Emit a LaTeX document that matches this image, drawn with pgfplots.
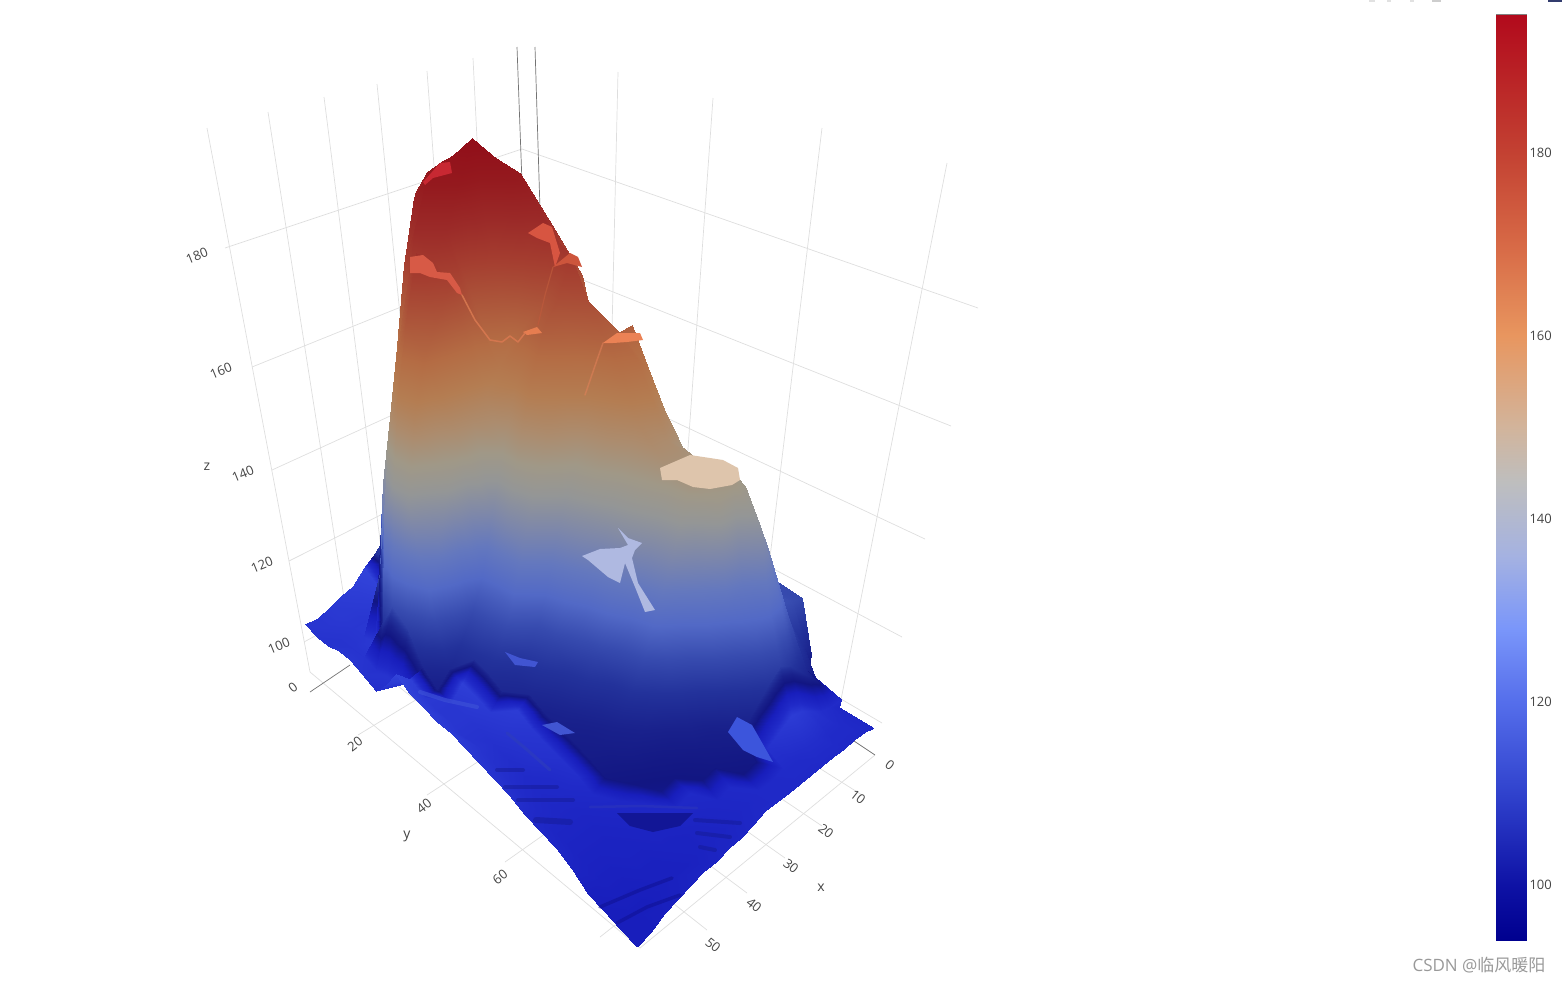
\documentclass[border=0pt]{standalone}
\usepackage{fontspec}
\setmainfont{Open Sans}
\newfontfamily\cjk{Noto Sans CJK SC}
\usepackage{pgfplots}
\usepackage{pgfplotstable}
\pgfplotsset{compat=1.18}
\usepgfplotslibrary{patchplots}
\definecolor{tickc}{RGB}{68,68,68}
\definecolor{gridc}{RGB}{222,222,222}
\pgfplotsset{
 colormap={wall}{
  rgb255(60pt)=(55,75,225); rgb255(68pt)=(50,68,218); rgb255(80pt)=(32,42,200); rgb255(90pt)=(24,30,188); rgb255(96pt)=(20,25,155);
  rgb255(100pt)=(18,22,130); rgb255(106pt)=(25,33,140); rgb255(112pt)=(35,50,155); rgb255(118pt)=(55,75,175);
  rgb255(124pt)=(82,105,198); rgb255(130pt)=(100,120,190); rgb255(136pt)=(125,135,170); rgb255(142pt)=(148,150,150);
  rgb255(147pt)=(160,152,135); rgb255(152pt)=(172,140,110); rgb255(158pt)=(180,125,82); rgb255(164pt)=(180,108,68);
  rgb255(170pt)=(172,85,58); rgb255(176pt)=(165,62,48); rgb255(182pt)=(155,42,40); rgb255(188pt)=(148,25,30);
  rgb255(195pt)=(145,12,24)},
 colormap={coolwarm}{
  rgb255(94pt)=(0,0,143); rgb255(100pt)=(14,18,165); rgb255(110pt)=(48,66,205); rgb255(120pt)=(85,110,235);
  rgb255(128pt)=(122,150,250); rgb255(136pt)=(165,178,225); rgb255(144pt)=(190,190,190); rgb255(150pt)=(210,180,155);
  rgb255(160pt)=(232,150,95); rgb255(170pt)=(215,105,70); rgb255(180pt)=(195,65,50); rgb255(195pt)=(178,10,28)}
}
% surface heights z, one text line per y position (21 x positions each)
\pgfplotstableread[row sep=\\]{
z\\
100\\100\\100\\100\\100\\100\\100\\101\\101\\102\\103\\105\\107\\110\\112\\110\\107\\106\\105\\104\\104\\
101\\101\\101\\101\\102\\103\\105\\110\\120\\130\\138\\145\\135\\120\\112\\108\\106\\105\\105\\104\\103\\
102\\102\\102\\103\\105\\110\\120\\135\\150\\158\\165\\170\\150\\125\\112\\107\\105\\104\\104\\103\\103\\
103\\103\\104\\106\\112\\125\\140\\155\\165\\172\\180\\184\\170\\155\\135\\115\\108\\105\\104\\103\\104\\
104\\105\\107\\112\\125\\140\\155\\170\\178\\184\\189\\188\\185\\175\\162\\150\\138\\120\\105\\103\\104\\
105\\107\\110\\120\\135\\150\\165\\178\\185\\188\\191\\190\\189\\182\\172\\162\\150\\135\\112\\102\\103\\
106\\108\\115\\128\\145\\160\\172\\185\\188\\191\\194\\188\\182\\178\\180\\170\\158\\142\\118\\103\\101\\
108\\112\\125\\145\\160\\170\\175\\182\\188\\190\\175\\167\\172\\175\\170\\165\\155\\140\\115\\103\\105\\
110\\118\\132\\150\\160\\168\\174\\180\\184\\176\\164\\160\\156\\153\\150\\143\\133\\122\\108\\107\\110\\
112\\118\\128\\138\\148\\158\\172\\175\\180\\170\\166\\158\\148\\136\\124\\117\\112\\108\\105\\105\\108\\
110\\115\\125\\135\\142\\150\\160\\170\\178\\172\\168\\160\\149\\136\\123\\116\\111\\107\\104\\104\\107\\
110\\114\\122\\130\\138\\145\\154\\160\\172\\166\\160\\152\\143\\132\\121\\114\\110\\106\\104\\104\\106\\
111\\116\\128\\140\\150\\160\\167\\167\\167\\158\\148\\140\\130\\119\\114\\110\\108\\105\\103\\103\\106\\
111\\115\\124\\134\\143\\152\\161\\164\\162\\153\\145\\135\\125\\116\\112\\108\\106\\104\\102\\103\\105\\
111\\114\\122\\131\\140\\148\\155\\158\\155\\148\\140\\130\\120\\113\\109\\106\\104\\103\\101\\102\\104\\
112\\114\\121\\129\\138\\145\\150\\152\\152\\145\\136\\126\\116\\111\\107\\105\\103\\102\\100\\101\\103\\
113\\115\\120\\128\\136\\146\\149\\150\\149\\140\\130\\120\\112\\108\\105\\104\\102\\100\\99\\100\\102\\
117\\116\\118\\126\\136\\148\\150\\150\\148\\136\\126\\116\\110\\106\\104\\103\\101\\99\\98\\99\\100\\
118\\118\\120\\128\\138\\146\\148\\146\\131\\122\\116\\110\\106\\104\\102\\101\\99\\97\\97\\97\\99\\
117\\118\\119\\126\\134\\140\\130\\126\\120\\113\\108\\104\\102\\101\\100\\98\\97\\96\\96\\96\\98\\
106\\110\\114\\120\\125\\126\\122\\116\\110\\105\\103\\101\\100\\99\\98\\97\\96\\95\\95\\95\\96\\
102\\104\\107\\110\\113\\115\\112\\108\\104\\102\\101\\100\\99\\98\\97\\96\\95\\95\\94\\94\\93\\
100\\100\\101\\103\\105\\106\\104\\102\\101\\100\\99\\98\\97\\96\\95\\95\\94\\94\\93\\93\\92\\
98\\99\\100\\100\\101\\101\\100\\100\\99\\99\\98\\97\\96\\96\\95\\94\\94\\93\\92\\92\\91\\
98\\99\\99\\99\\99\\99\\99\\99\\99\\99\\99\\98\\97\\97\\96\\96\\95\\94\\93\\91\\90\\
}\zdata
\newcommand\Sv{(0.985*mod(\coordindex,21)/20)}
\newcommand\Tv{(0.985*floor(\coordindex/21)/24)}
\newcommand\Dz{(\thisrow{z}-92)}
\newcommand\Den{(1-0.10629*\Sv-0.20033*\Tv-0.00236*\Dz)}
\newcommand\Ii{mod(\coordindex,21)}
\newcommand\Jj{floor(\coordindex/21)}
\newcommand\Bb{ifthenelse(\Jj<5,15,ifthenelse(\Jj<10,19,ifthenelse(\Jj<13,17,ifthenelse(\Jj<19,16,ifthenelse(\Jj<20,15,ifthenelse(\Jj<21,14,ifthenelse(\Jj<22,12,ifthenelse(\Jj<23,10,0))))))))}
\newcommand\gl[1]{\addplot[forget plot,gridc,line width=0.7pt] coordinates {#1};}
\newcommand\dl[1]{\addplot[forget plot,black!55,line width=0.7pt] coordinates {#1};}
\newcommand\facet[4]{\addplot[forget plot,fill={rgb,255:red,#1;green,#2;blue,#3},draw=none] coordinates {#4} -- cycle;}
\newcommand\stroke[6]{\addplot[forget plot,color={rgb,255:red,#1;green,#2;blue,#3},line width=#4pt,opacity=#5,line join=round,line cap=round] coordinates {#6};}
\newcommand\tl[4]{\node[rotate=#1,text=tickc,font=\fontsize{13}{15}\selectfont] at (axis cs:#2,#3) {#4};}
\begin{document}
\begin{tikzpicture}
\path[use as bounding box] (0,0) rectangle (1562pt,983pt);
\begin{axis}[at={(0,0)},anchor=south west,scale only axis,width=1562pt,height=983pt,
 xmin=0,xmax=1562,ymin=0,ymax=983,y dir=reverse,axis lines=none,clip=false,
 colormap name=wall,point meta min=60,point meta max=195]
% walls and floor grid
\gl{(207,128)(310,672)}\gl{(268,112)(352,649)}\gl{(324,97)(391,627)}\gl{(377,84)(429,606)}\gl{(427,71)(465,585)}\gl{(473,58)(498,566)}
\gl{(947,163)(835,730)}\gl{(822,128)(755,681)}\gl{(713,98)(675,631)}\gl{(618,72)(606,589)}
\gl{(225,248)(522,149)(978,308)}\gl{(252,367)(525,257)(951,426)}\gl{(272,470)(528,353)(925,539)}\gl{(289,561)(530,440)(902,637)}\gl{(304,642)(532,518)(882,723)}
\gl{(358,735)(600,588)}\gl{(427,795)(675,633)}\gl{(505,862)(758,684)}\gl{(600,937)(850,740)}
\gl{(862,795)(499,566)}\gl{(822,826)(464,585)}\gl{(785,858)(428,606)}\gl{(747,893)(390,627)}\gl{(707,930)(351,649)}
\gl{(310,672)(640,948)}\gl{(640,948)(875,755)}
\dl{(517,47)(523,210)}\dl{(535,47)(540,210)}\dl{(310,692)(350,665)}\dl{(875,755)(848,737)}
% surface
\addplot[surf,shader=interp,mesh/cols=21,mesh/rows=25,point meta=explicit]
 table[x index=0,y index=0,meta index=0,x expr={(-255.95*\Sv+166.7*\Tv+533-1.352*\Dz)/\Den},
       y expr={(53.57*\Sv+56.75*\Tv+547-4.871*\Dz)/\Den},
       meta expr={ifthenelse(\thisrow{z}<=116 && (\Ii>=\Bb || (\Jj>=22 && \Ii<=7)),min(90,max(68,90-1.3*(\thisrow{z}-92))),\thisrow{z})}] {\zdata};
% floor ripples
\stroke{16}{18}{150}{3.5}{0.6}{(600,907)(640,890)(672,878)}
\stroke{16}{18}{150}{3.5}{0.6}{(617,923)(647,907)(680,895)}
\stroke{20}{25}{145}{4}{0.45}{(497,770)(523,770)}
\stroke{20}{25}{145}{4}{0.45}{(505,787)(557,787)}
\stroke{20}{25}{145}{4}{0.45}{(518,800)(573,800)}
\stroke{20}{25}{145}{6}{0.45}{(536,820)(570,822)}
\stroke{20}{25}{145}{4}{0.45}{(695,820)(740,823)}
\stroke{20}{25}{145}{4}{0.45}{(697,833)(730,837)}
\stroke{20}{25}{145}{4}{0.45}{(700,847)(715,850)}
\stroke{60}{80}{215}{4}{0.7}{(420,692)(445,700)(477,707)}
\stroke{45}{60}{190}{3}{0.7}{(507,733)(525,748)(550,770)}
\stroke{40}{50}{190}{2.5}{0.8}{(590,807)(640,806)(697,808)}
% lit facets
\facet{222}{197}{172}{(660,468)(690,455)(710,458)(723,460)(738,468)(740,480)(732,485)(710,489)(693,487)(677,480)(662,480)}
\facet{175}{185}{225}{(582,556)(600,549)(620,548)(628,545)(618,528)(628,538)(642,543)(635,550)(632,558)(638,583)(655,610)(645,612)(635,587)(625,563)(620,583)(608,577)(588,560)}
\facet{215}{90}{70}{(410,257)(423,255)(433,263)(437,272)(450,273)(460,288)(462,295)(457,293)(447,280)(430,277)(420,273)(410,273)}
\facet{200}{40}{50}{(423,182)(440,163)(450,162)(452,173)(433,178)(425,185)}
\facet{215}{85}{65}{(528,233)(543,223)(552,227)(560,253)(555,267)(550,243)(537,238)}
\facet{205}{85}{60}{(553,267)(570,253)(578,257)(582,267)(567,263)}
\facet{235}{130}{85}{(603,343)(617,333)(640,333)(643,340)(627,342)(613,343)}
\facet{230}{125}{80}{(523,332)(537,327)(542,333)(527,335)}
\facet{65}{85}{210}{(542,725)(557,722)(575,733)(560,735)}
\facet{65}{85}{210}{(505,652)(520,658)(538,662)(535,667)(515,665)}
\facet{60}{85}{220}{(728,732)(737,717)(752,725)(773,762)(757,757)(743,750)}
\facet{18}{22}{150}{(617,813)(693,813)(680,826)(653,832)(630,826)}
\stroke{215}{120}{80}{1.5}{0.9}{(462,295)(475,320)(490,340)(502,342)(510,336)(518,342)(525,333)}
\stroke{190}{90}{60}{1.2}{0.7}{(553,267)(545,295)(538,325)}
\stroke{230}{130}{90}{1.5}{0.5}{(585,395)(597,360)(603,343)}
% toolbar remnants at the top edge
\facet{225}{225}{225}{(1369,0)(1375,0)(1375,1.5)(1369,1.5)}
\facet{225}{225}{225}{(1387,0)(1391,0)(1391,1.5)(1387,1.5)}
\facet{225}{225}{225}{(1410,0)(1414,0)(1414,1.5)(1410,1.5)}
\facet{205}{205}{205}{(1432,0)(1441,0)(1441,2)(1432,2)}
\facet{50}{60}{110}{(1548,0)(1562,0)(1562,1.5)(1548,1.5)}
% labels
\tl{22}{279}{646}{100}\tl{22}{262}{565}{120}\tl{22}{243}{474}{140}\tl{22}{221}{371}{160}\tl{22}{197}{256}{180}
\tl{38}{293}{688}{0}\tl{38}{355}{744}{20}\tl{38}{424}{806}{40}\tl{38}{500}{877}{60}
\tl{-38}{890}{765}{0}\tl{-38}{858}{797}{10}\tl{-38}{826}{831}{20}\tl{-38}{791}{866}{30}\tl{-38}{754}{905}{40}\tl{-38}{713}{945}{50}
\node[text=tickc,font=\fontsize{14}{16}\selectfont] at (axis cs:207,467) {z};
\node[text=tickc,font=\fontsize{14}{16}\selectfont] at (axis cs:407,836) {y};
\node[text=tickc,font=\fontsize{14}{16}\selectfont] at (axis cs:821,888) {x};
\node[text=black!40,font=\fontsize{17}{19}\selectfont,anchor=east] at (axis cs:1549,965) {CSDN @{\cjk 临风暖阳}};
\end{axis}
\begin{axis}[at={(1496pt,43pt)},anchor=south west,scale only axis,width=30pt,height=925pt,
 xmin=0,xmax=1,ymin=94,ymax=195,xtick=\empty,ytick={100,120,140,160,180},
 yticklabel pos=right,major tick length=0pt,
 axis line style={draw=gray,line width=1pt},
 /pgf/number format/assume math mode=true,
 yticklabel style={font=\fontsize{13}{15}\selectfont,text=tickc,xshift=0pt},
 colormap name=coolwarm,point meta min=94,point meta max=195]
\addplot[surf,shader=interp,mesh/cols=2,mesh/rows=2,point meta=y] table[row sep=\\]{
x y\\ 0 94\\ 1 94\\ 0 195\\ 1 195\\
};
\end{axis}
\end{tikzpicture}
\end{document}
